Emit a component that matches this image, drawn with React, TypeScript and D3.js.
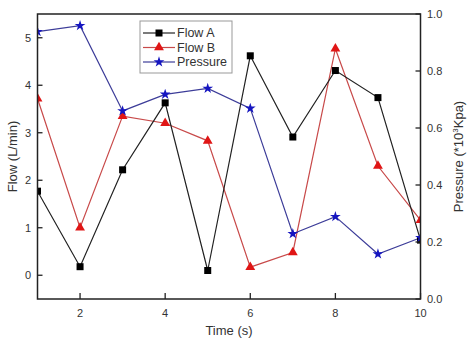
import React from "react";
import * as d3 from "d3";

const times = [1, 2, 3, 4, 5, 6, 7, 8, 9, 10];
const flowA = [1.77, 0.18, 2.22, 3.63, 0.1, 4.62, 2.91, 4.31, 3.74, 0.74];
const flowB = [3.72, 1.0, 3.35, 3.2, 2.83, 0.17, 0.48, 4.77, 2.3, 1.16];
const pressure = [0.938, 0.959, 0.66, 0.718, 0.739, 0.669, 0.229, 0.289, 0.158, 0.215];
const xTicks = [2, 4, 6, 8, 10];
const leftTicks = [0, 1, 2, 3, 4, 5];
const rightTicks = [0, 0.2, 0.4, 0.6, 0.8, 1.0];
const legendNames = ["Flow A", "Flow B", "Pressure"];

const W = 474, H = 342;
const L = 37.5, R = 420.5, T = 14, B = 299;

export default function App() {
  const x = d3.scaleLinear().domain([1, 10]).range([L, R]);
  const yL = d3.scaleLinear().domain([-0.5, 5.5]).range([B, T]);
  const yR = d3.scaleLinear().domain([0, 1]).range([B, T]);
  const lineL = d3.line<number>().x((_, i) => x(times[i])).y((d) => yL(d));
  const lineR = d3.line<number>().x((_, i) => x(times[i])).y((d) => yR(d));
  const tri = d3.symbol().type(d3.symbolTriangle).size(42)() as string;
  const star = d3.symbol().type(d3.symbolStar).size(36)() as string;
  const font = "Liberation Sans, Arial, sans-serif";
  const tc = "#333";
  const legendColors = ["#222", "#c84a4a", "#3d3d99"];
  const legendY = [33, 47.5, 62];

  return (
    <svg width={W} height={H} style={{ position: "absolute", left: 0, top: 0 }} fontFamily={font}>
      <rect width={W} height={H} fill="#fff" />
      <defs>
        <clipPath id="plot">
          <rect x={L} y={T} width={R - L} height={B - T} />
        </clipPath>
      </defs>
      <g clipPath="url(#plot)">
        <path d={lineL(flowB) || ""} fill="none" stroke="#c84a4a" strokeWidth={1.2} />
        <path d={lineR(pressure) || ""} fill="none" stroke="#3d3d99" strokeWidth={1.2} />
        <path d={lineL(flowA) || ""} fill="none" stroke="#222" strokeWidth={1.2} />
        {flowB.map((d, i) => (
          <path key={"b" + i} d={tri} transform={`translate(${x(times[i])},${yL(d)})`} fill="#e01515" />
        ))}
        {flowA.map((d, i) => (
          <rect key={"a" + i} x={x(times[i]) - 3.5} y={yL(d) - 3.5} width={7} height={7} fill="#000" />
        ))}
        {pressure.map((d, i) => (
          <path key={"p" + i} d={star} transform={`translate(${x(times[i])},${yR(d)})`} fill="#1515c0" />
        ))}
      </g>
      <rect x={L} y={T} width={R - L} height={B - T} fill="none" stroke="#222" strokeWidth={1.5} />
      {xTicks.map((t) => (
        <g key={"x" + t}>
          <line x1={x(t)} x2={x(t)} y1={B} y2={B - 6} stroke="#222" strokeWidth={1.3} />
          <text x={x(t)} y={317} textAnchor="middle" fontSize={11} fill={tc}>{t}</text>
        </g>
      ))}
      {leftTicks.map((t) => (
        <g key={"l" + t}>
          <line x1={L} x2={L + 5} y1={yL(t)} y2={yL(t)} stroke="#222" strokeWidth={1.3} />
          <text x={31} y={yL(t) + 4} textAnchor="end" fontSize={11} fill={tc}>{t}</text>
        </g>
      ))}
      {rightTicks.map((t) => (
        <g key={"r" + t}>
          <line x1={R - 5} x2={R} y1={yR(t)} y2={yR(t)} stroke="#222" strokeWidth={1.3} />
          <text x={427} y={yR(t) + 4} textAnchor="start" fontSize={11} fill={tc}>{t.toFixed(1)}</text>
        </g>
      ))}
      <text x={229} y={335} textAnchor="middle" fontSize={13} fill={tc}>Time (s)</text>
      <text transform={`translate(17,${(T + B) / 2}) rotate(-90)`} textAnchor="middle" fontSize={13} fill={tc}>Flow (L/min)</text>
      <text transform={`translate(463,${(T + B) / 2}) rotate(-90)`} textAnchor="middle" fontSize={13} fill={tc}>
        Pressure (*10<tspan fontSize={8} dy={-5}>3</tspan><tspan dy={5}>Kpa)</tspan>
      </text>
      <g>
        <rect x={140} y={21} width={92} height={52} fill="#fff" stroke="#999" strokeWidth={1} />
        {legendNames.map((name, i) => {
          const y = legendY[i];
          return (
            <g key={name}>
              <line x1={143} x2={175} y1={y} y2={y} stroke={legendColors[i]} strokeWidth={1.2} />
              {i === 0 && <rect x={155.5} y={y - 3.5} width={7} height={7} fill="#000" />}
              {i === 1 && <path d={tri} transform={`translate(159,${y})`} fill="#e01515" />}
              {i === 2 && <path d={star} transform={`translate(159,${y})`} fill="#1515c0" />}
              <text x={177} y={y + 4.3} fontSize={12.5} fill={tc}>{name}</text>
            </g>
          );
        })}
      </g>
    </svg>
  );
}
